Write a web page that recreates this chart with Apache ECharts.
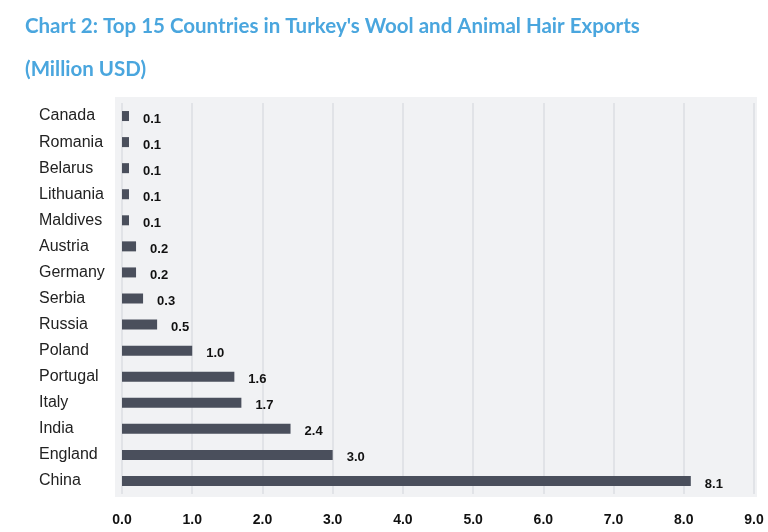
<!DOCTYPE html>
<html>
<head>
<meta charset="utf-8">
<script src="https://cdn.jsdelivr.net/npm/echarts@6/dist/echarts.min.js"></script>
<style>
  html, body { margin: 0; padding: 0; background: #fff; }
  #main { width: 768px; height: 532px; }
</style>
</head>
<body>
<div id="main"></div>
<script>
// categories top to bottom
const countries = ['Canada', 'Romania', 'Belarus', 'Lithuania', 'Maldives', 'Austria', 'Germany',
  'Serbia', 'Russia', 'Poland', 'Portugal', 'Italy', 'India', 'England', 'China']
// export value, million USD
const exportValues = [0.1, 0.1, 0.1, 0.1, 0.1, 0.2, 0.2, 0.3, 0.5, 1.0, 1.6, 1.7, 2.4, 3.0, 8.1]
const xMin = 0
const xMax = 9
const xStep = 1

const myChart = echarts.init(document.getElementById('main'))
const option = {
  backgroundColor: '#fff',
  title: {
    text: "Chart 2: Top 15 Countries in Turkey's Wool and Animal Hair Exports\n(Million USD)",
    left: 20,
    top: 0,
    textStyle: {
      color: '#4aa6de',
      fontFamily: 'Lato',
      fontWeight: 'bold',
      fontSize: 20.5,
      lineHeight: 43
    }
  },
  graphic: [
    {
      // light panel behind the plot
      type: 'rect',
      left: 115,
      top: 97,
      shape: { width: 642, height: 400 },
      style: { fill: '#f1f2f4' },
      z: -10
    }
  ],
  grid: {
    left: 122,
    right: 14,
    top: 103,
    height: 391
  },
  xAxis: {
    type: 'value',
    min: xMin,
    max: xMax,
    interval: xStep,
    axisLine: { show: false },
    axisTick: { show: false },
    splitLine: { lineStyle: { color: '#e1e3e7', width: 2 } },
    axisLabel: {
      margin: 19,
      color: '#111',
      fontFamily: 'Liberation Sans',
      fontWeight: 'bold',
      fontSize: 14,
      formatter: v => v.toFixed(1)
    }
  },
  yAxis: {
    type: 'category',
    data: countries,
    inverse: true,
    axisLine: { show: false },
    axisTick: { show: false },
    axisLabel: {
      align: 'left',
      margin: 83,
      color: '#222',
      fontFamily: 'Liberation Sans',
      fontSize: 16
    }
  },
  series: [
    {
      type: 'bar',
      data: exportValues,
      barWidth: 10,
      itemStyle: { color: '#4a4f5c' },
      label: {
        show: true,
        position: 'right',
        distance: 14,
        offset: [0, 3],
        color: '#111',
        fontFamily: 'Liberation Sans',
        fontWeight: 'bold',
        fontSize: 13,
        formatter: p => p.value.toFixed(1)
      }
    }
  ],
  animation: false
}
myChart.setOption(option)
</script>
</body>
</html>
